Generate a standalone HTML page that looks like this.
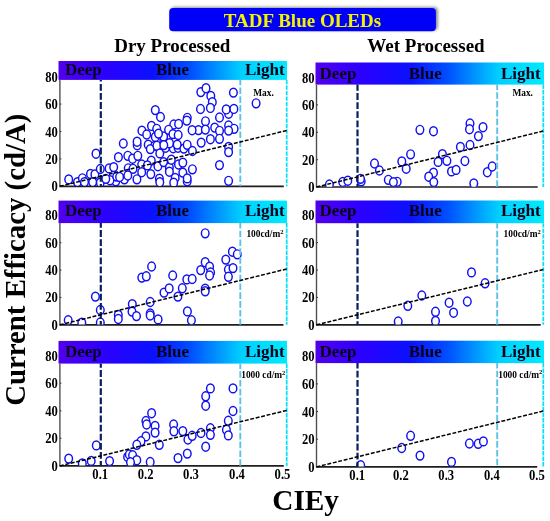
<!DOCTYPE html>
<html><head><meta charset="utf-8"><style>html,body{margin:0;padding:0;background:#fff;width:550px;height:521px;overflow:hidden}svg{display:block;will-change:transform}</style></head>
<body><svg width="550" height="521" viewBox="0 0 550 521">
<defs>
<linearGradient id="grad" x1="0" y1="0" x2="1" y2="0">
<stop offset="0" stop-color="#5200ec"/>
<stop offset="0.2" stop-color="#2c00ff"/>
<stop offset="0.42" stop-color="#0a12ff"/>
<stop offset="0.58" stop-color="#0050ff"/>
<stop offset="0.8" stop-color="#00cfff"/>
<stop offset="1" stop-color="#00eaff"/>
</linearGradient>
<filter id="sh" x="-10%" y="-60%" width="120%" height="220%">
<feGaussianBlur in="SourceAlpha" stdDeviation="1.6"/>
<feOffset dx="1.5" dy="-1.5" result="b"/>
<feFlood flood-color="#000" flood-opacity="0.45"/>
<feComposite in2="b" operator="in"/>
<feMerge><feMergeNode/><feMergeNode in="SourceGraphic"/></feMerge>
</filter>
</defs>
<style>
text{font-family:"Liberation Serif", serif;font-weight:bold;fill:#000}
.bt{font-size:17px;fill:#0a0018}
.yt{font-size:14.5px;text-anchor:end}
.xt{font-size:14.5px}
.nt{font-size:9.4px}
ellipse{fill:#fff;stroke:#1010f0;stroke-width:1.45}
</style>
<rect width="550" height="521" fill="#fff"/>
<rect x="169.2" y="8" width="266.7" height="23.3" rx="4" ry="4" fill="#0505f8" filter="url(#sh)"/>
<text x="302.5" y="26.6" text-anchor="middle" style="font-size:19px;fill:#f4f400">TADF Blue OLEDs</text>
<text x="172.3" y="51.6" text-anchor="middle" style="font-size:19px">Dry Processed</text>
<text x="426" y="51.8" text-anchor="middle" style="font-size:19px">Wet Processed</text>
<text transform="translate(25.3,259.7) rotate(-90)" text-anchor="middle" style="font-size:28.8px">Current Efficacy (cd/A)</text>
<text x="305.6" y="509.9" text-anchor="middle" style="font-size:29.3px">CIEy</text>
<rect x="58.5" y="61.0" width="228.5" height="18.9" fill="url(#grad)"/>
<text x="65.0" y="74.6" class="bt">Deep</text>
<text x="156.0" y="74.6" class="bt">Blue</text>
<text x="245.0" y="74.6" class="bt">Light</text>
<line x1="59.9" y1="79.9" x2="59.9" y2="186.3" stroke="#505050" stroke-width="1.4"/>
<line x1="59.4" y1="186.3" x2="283.8" y2="186.3" stroke="#1e1e1e" stroke-width="1.7"/>
<text transform="translate(57.8,191.3) scale(0.87,1)" class="yt">0</text>
<text transform="translate(57.8,163.9) scale(0.87,1)" class="yt">20</text>
<line x1="59.9" y1="158.9" x2="61.4" y2="158.9" stroke="#333" stroke-width="1"/>
<text transform="translate(57.8,136.5) scale(0.87,1)" class="yt">40</text>
<line x1="59.9" y1="131.5" x2="61.4" y2="131.5" stroke="#333" stroke-width="1"/>
<text transform="translate(57.8,109.1) scale(0.87,1)" class="yt">60</text>
<line x1="59.9" y1="104.1" x2="61.4" y2="104.1" stroke="#333" stroke-width="1"/>
<text transform="translate(57.8,81.7) scale(0.87,1)" class="yt">80</text>
<clipPath id="cL1"><rect x="60.4" y="79.9" width="300" height="106.1"/></clipPath>
<g clip-path="url(#cL1)">
<ellipse cx="115.8" cy="181.3" rx="3.8" ry="4.45"/>
<ellipse cx="124.4" cy="179.3" rx="3.8" ry="4.45"/>
<ellipse cx="110.0" cy="180.2" rx="3.8" ry="4.45"/>
<ellipse cx="228.6" cy="113.7" rx="3.8" ry="4.45"/>
<ellipse cx="96.0" cy="153.7" rx="3.8" ry="4.45"/>
<ellipse cx="68.7" cy="179.4" rx="3.8" ry="4.45"/>
<ellipse cx="77.4" cy="182.1" rx="3.8" ry="4.45"/>
<ellipse cx="82.4" cy="178.3" rx="3.8" ry="4.45"/>
<ellipse cx="84.5" cy="182.1" rx="3.8" ry="4.45"/>
<ellipse cx="90.5" cy="173.9" rx="3.8" ry="4.45"/>
<ellipse cx="94.9" cy="174.4" rx="3.8" ry="4.45"/>
<ellipse cx="92.7" cy="182.1" rx="3.8" ry="4.45"/>
<ellipse cx="100.3" cy="169.0" rx="3.8" ry="4.45"/>
<ellipse cx="100.3" cy="182.6" rx="3.8" ry="4.45"/>
<ellipse cx="105.8" cy="178.8" rx="3.8" ry="4.45"/>
<ellipse cx="109.1" cy="168.4" rx="3.8" ry="4.45"/>
<ellipse cx="113.7" cy="167.1" rx="3.8" ry="4.45"/>
<ellipse cx="116.7" cy="176.6" rx="3.8" ry="4.45"/>
<ellipse cx="118.4" cy="157.2" rx="3.8" ry="4.45"/>
<ellipse cx="123.3" cy="143.5" rx="3.8" ry="4.45"/>
<ellipse cx="137.2" cy="145.2" rx="3.8" ry="4.45"/>
<ellipse cx="148.2" cy="144.7" rx="3.8" ry="4.45"/>
<ellipse cx="154.7" cy="145.9" rx="3.8" ry="4.45"/>
<ellipse cx="150.3" cy="149.1" rx="3.8" ry="4.45"/>
<ellipse cx="127.8" cy="155.8" rx="3.8" ry="4.45"/>
<ellipse cx="132.6" cy="158.7" rx="3.8" ry="4.45"/>
<ellipse cx="137.8" cy="155.8" rx="3.8" ry="4.45"/>
<ellipse cx="151.3" cy="160.6" rx="3.8" ry="4.45"/>
<ellipse cx="128.2" cy="168.3" rx="3.8" ry="4.45"/>
<ellipse cx="133.0" cy="168.8" rx="3.8" ry="4.45"/>
<ellipse cx="141.7" cy="164.5" rx="3.8" ry="4.45"/>
<ellipse cx="147.4" cy="165.4" rx="3.8" ry="4.45"/>
<ellipse cx="157.9" cy="166.2" rx="3.8" ry="4.45"/>
<ellipse cx="119.6" cy="177.0" rx="3.8" ry="4.45"/>
<ellipse cx="127.8" cy="175.5" rx="3.8" ry="4.45"/>
<ellipse cx="136.9" cy="179.3" rx="3.8" ry="4.45"/>
<ellipse cx="141.7" cy="172.2" rx="3.8" ry="4.45"/>
<ellipse cx="150.8" cy="174.1" rx="3.8" ry="4.45"/>
<ellipse cx="159.4" cy="178.7" rx="3.8" ry="4.45"/>
<ellipse cx="156.9" cy="145.8" rx="3.8" ry="4.45"/>
<ellipse cx="159.8" cy="153.4" rx="3.8" ry="4.45"/>
<ellipse cx="163.8" cy="141.2" rx="3.8" ry="4.45"/>
<ellipse cx="165.6" cy="147.7" rx="3.8" ry="4.45"/>
<ellipse cx="173.2" cy="148.2" rx="3.8" ry="4.45"/>
<ellipse cx="178.0" cy="147.7" rx="3.8" ry="4.45"/>
<ellipse cx="183.8" cy="148.6" rx="3.8" ry="4.45"/>
<ellipse cx="187.2" cy="144.8" rx="3.8" ry="4.45"/>
<ellipse cx="192.4" cy="151.0" rx="3.8" ry="4.45"/>
<ellipse cx="201.2" cy="142.6" rx="3.8" ry="4.45"/>
<ellipse cx="163.6" cy="162.1" rx="3.8" ry="4.45"/>
<ellipse cx="169.4" cy="167.4" rx="3.8" ry="4.45"/>
<ellipse cx="169.4" cy="171.7" rx="3.8" ry="4.45"/>
<ellipse cx="171.3" cy="159.7" rx="3.8" ry="4.45"/>
<ellipse cx="178.5" cy="164.5" rx="3.8" ry="4.45"/>
<ellipse cx="182.8" cy="162.6" rx="3.8" ry="4.45"/>
<ellipse cx="182.8" cy="172.6" rx="3.8" ry="4.45"/>
<ellipse cx="192.4" cy="169.3" rx="3.8" ry="4.45"/>
<ellipse cx="159.8" cy="182.2" rx="3.8" ry="4.45"/>
<ellipse cx="175.2" cy="177.9" rx="3.8" ry="4.45"/>
<ellipse cx="173.7" cy="182.7" rx="3.8" ry="4.45"/>
<ellipse cx="187.2" cy="181.3" rx="3.8" ry="4.45"/>
<ellipse cx="187.2" cy="178.4" rx="3.8" ry="4.45"/>
<ellipse cx="205.5" cy="121.3" rx="3.8" ry="4.45"/>
<ellipse cx="198.5" cy="130.1" rx="3.8" ry="4.45"/>
<ellipse cx="205.4" cy="129.6" rx="3.8" ry="4.45"/>
<ellipse cx="214.7" cy="127.6" rx="3.8" ry="4.45"/>
<ellipse cx="219.5" cy="130.8" rx="3.8" ry="4.45"/>
<ellipse cx="228.6" cy="125.5" rx="3.8" ry="4.45"/>
<ellipse cx="234.1" cy="128.8" rx="3.8" ry="4.45"/>
<ellipse cx="228.6" cy="130.6" rx="3.8" ry="4.45"/>
<ellipse cx="210.4" cy="139.2" rx="3.8" ry="4.45"/>
<ellipse cx="219.5" cy="138.8" rx="3.8" ry="4.45"/>
<ellipse cx="228.6" cy="146.9" rx="3.8" ry="4.45"/>
<ellipse cx="228.6" cy="152.1" rx="3.8" ry="4.45"/>
<ellipse cx="219.5" cy="165.1" rx="3.8" ry="4.45"/>
<ellipse cx="228.6" cy="180.8" rx="3.8" ry="4.45"/>
<ellipse cx="155.3" cy="110.1" rx="3.8" ry="4.45"/>
<ellipse cx="160.5" cy="117.0" rx="3.8" ry="4.45"/>
<ellipse cx="151.5" cy="125.9" rx="3.8" ry="4.45"/>
<ellipse cx="156.7" cy="128.8" rx="3.8" ry="4.45"/>
<ellipse cx="141.9" cy="130.7" rx="3.8" ry="4.45"/>
<ellipse cx="146.7" cy="134.5" rx="3.8" ry="4.45"/>
<ellipse cx="155.3" cy="136.9" rx="3.8" ry="4.45"/>
<ellipse cx="163.6" cy="136.4" rx="3.8" ry="4.45"/>
<ellipse cx="137.1" cy="141.7" rx="3.8" ry="4.45"/>
<ellipse cx="200.5" cy="109.0" rx="3.8" ry="4.45"/>
<ellipse cx="187.3" cy="117.8" rx="3.8" ry="4.45"/>
<ellipse cx="186.8" cy="120.6" rx="3.8" ry="4.45"/>
<ellipse cx="173.8" cy="124.5" rx="3.8" ry="4.45"/>
<ellipse cx="178.6" cy="124.0" rx="3.8" ry="4.45"/>
<ellipse cx="192.1" cy="130.2" rx="3.8" ry="4.45"/>
<ellipse cx="168.6" cy="129.8" rx="3.8" ry="4.45"/>
<ellipse cx="172.9" cy="134.1" rx="3.8" ry="4.45"/>
<ellipse cx="178.2" cy="135.0" rx="3.8" ry="4.45"/>
<ellipse cx="158.5" cy="133.6" rx="3.8" ry="4.45"/>
<ellipse cx="169.5" cy="143.2" rx="3.8" ry="4.45"/>
<ellipse cx="177.2" cy="144.6" rx="3.8" ry="4.45"/>
<ellipse cx="163.8" cy="145.1" rx="3.8" ry="4.45"/>
<ellipse cx="200.8" cy="92.1" rx="3.8" ry="4.45"/>
<ellipse cx="206.0" cy="88.2" rx="3.8" ry="4.45"/>
<ellipse cx="210.8" cy="95.9" rx="3.8" ry="4.45"/>
<ellipse cx="212.3" cy="102.2" rx="3.8" ry="4.45"/>
<ellipse cx="210.4" cy="107.9" rx="3.8" ry="4.45"/>
<ellipse cx="233.4" cy="92.6" rx="3.8" ry="4.45"/>
<ellipse cx="226.2" cy="109.4" rx="3.8" ry="4.45"/>
<ellipse cx="233.9" cy="108.9" rx="3.8" ry="4.45"/>
<ellipse cx="219.5" cy="117.5" rx="3.8" ry="4.45"/>
<ellipse cx="256.1" cy="103.3" rx="3.8" ry="4.45"/>
</g>
<line x1="100.8" y1="79.9" x2="100.8" y2="186.3" stroke="#0a1d5c" stroke-width="2.2" stroke-dasharray="6.8,2.3" stroke-dashoffset="5.1"/>
<line x1="240.3" y1="79.9" x2="240.3" y2="186.3" stroke="#5cc2ea" stroke-width="1.9" stroke-dasharray="6.6,2.2" stroke-dashoffset="1.2"/>
<line x1="286.7" y1="79.9" x2="286.7" y2="186.3" stroke="#00e2fa" stroke-width="1.7" stroke-dasharray="4.4,1.1"/>
<line x1="59.9" y1="186.3" x2="286.7" y2="130.5" stroke="#000" stroke-width="1.5" stroke-dasharray="3.9,1.7"/>
<text x="253.2" y="95.6" class="nt">Max.</text>
<rect x="58.5" y="200.6" width="228.5" height="22.5" fill="url(#grad)"/>
<text x="65.0" y="215.8" class="bt">Deep</text>
<text x="156.0" y="215.8" class="bt">Blue</text>
<text x="245.0" y="215.8" class="bt">Light</text>
<line x1="59.9" y1="223.1" x2="59.9" y2="324.8" stroke="#505050" stroke-width="1.4"/>
<line x1="59.4" y1="324.8" x2="283.5" y2="324.8" stroke="#1e1e1e" stroke-width="1.7"/>
<text transform="translate(57.8,329.8) scale(0.87,1)" class="yt">0</text>
<text transform="translate(57.8,302.4) scale(0.87,1)" class="yt">20</text>
<line x1="59.9" y1="297.4" x2="61.4" y2="297.4" stroke="#333" stroke-width="1"/>
<text transform="translate(57.8,275.1) scale(0.87,1)" class="yt">40</text>
<line x1="59.9" y1="270.1" x2="61.4" y2="270.1" stroke="#333" stroke-width="1"/>
<text transform="translate(57.8,247.7) scale(0.87,1)" class="yt">60</text>
<line x1="59.9" y1="242.7" x2="61.4" y2="242.7" stroke="#333" stroke-width="1"/>
<text transform="translate(57.8,220.3) scale(0.87,1)" class="yt">80</text>
<clipPath id="cL2"><rect x="60.4" y="223.1" width="300" height="101.4"/></clipPath>
<g clip-path="url(#cL2)">
<ellipse cx="95.4" cy="296.6" rx="3.8" ry="4.45"/>
<ellipse cx="100.3" cy="310.0" rx="3.8" ry="4.45"/>
<ellipse cx="68.2" cy="320.3" rx="3.8" ry="4.45"/>
<ellipse cx="81.8" cy="322.7" rx="3.8" ry="4.45"/>
<ellipse cx="100.3" cy="322.5" rx="3.8" ry="4.45"/>
<ellipse cx="118.3" cy="314.9" rx="3.8" ry="4.45"/>
<ellipse cx="118.3" cy="319.0" rx="3.8" ry="4.45"/>
<ellipse cx="151.6" cy="266.5" rx="3.8" ry="4.45"/>
<ellipse cx="141.8" cy="277.6" rx="3.8" ry="4.45"/>
<ellipse cx="146.3" cy="276.3" rx="3.8" ry="4.45"/>
<ellipse cx="172.7" cy="275.5" rx="3.8" ry="4.45"/>
<ellipse cx="164.0" cy="292.6" rx="3.8" ry="4.45"/>
<ellipse cx="169.2" cy="288.4" rx="3.8" ry="4.45"/>
<ellipse cx="150.2" cy="302.0" rx="3.8" ry="4.45"/>
<ellipse cx="132.3" cy="304.1" rx="3.8" ry="4.45"/>
<ellipse cx="132.0" cy="311.6" rx="3.8" ry="4.45"/>
<ellipse cx="136.5" cy="316.1" rx="3.8" ry="4.45"/>
<ellipse cx="150.2" cy="313.5" rx="3.8" ry="4.45"/>
<ellipse cx="150.2" cy="315.5" rx="3.8" ry="4.45"/>
<ellipse cx="158.1" cy="319.4" rx="3.8" ry="4.45"/>
<ellipse cx="205.2" cy="233.3" rx="3.8" ry="4.45"/>
<ellipse cx="232.4" cy="251.7" rx="3.8" ry="4.45"/>
<ellipse cx="237.3" cy="254.3" rx="3.8" ry="4.45"/>
<ellipse cx="225.8" cy="259.6" rx="3.8" ry="4.45"/>
<ellipse cx="205.2" cy="262.2" rx="3.8" ry="4.45"/>
<ellipse cx="209.6" cy="266.6" rx="3.8" ry="4.45"/>
<ellipse cx="200.7" cy="270.1" rx="3.8" ry="4.45"/>
<ellipse cx="210.6" cy="272.5" rx="3.8" ry="4.45"/>
<ellipse cx="209.6" cy="275.5" rx="3.8" ry="4.45"/>
<ellipse cx="228.4" cy="269.5" rx="3.8" ry="4.45"/>
<ellipse cx="233.0" cy="268.1" rx="3.8" ry="4.45"/>
<ellipse cx="228.4" cy="276.8" rx="3.8" ry="4.45"/>
<ellipse cx="186.8" cy="279.4" rx="3.8" ry="4.45"/>
<ellipse cx="192.2" cy="279.0" rx="3.8" ry="4.45"/>
<ellipse cx="182.3" cy="288.3" rx="3.8" ry="4.45"/>
<ellipse cx="177.9" cy="296.6" rx="3.8" ry="4.45"/>
<ellipse cx="205.2" cy="288.7" rx="3.8" ry="4.45"/>
<ellipse cx="205.2" cy="291.3" rx="3.8" ry="4.45"/>
<ellipse cx="187.4" cy="311.4" rx="3.8" ry="4.45"/>
<ellipse cx="191.4" cy="320.3" rx="3.8" ry="4.45"/>
</g>
<line x1="100.8" y1="223.1" x2="100.8" y2="324.8" stroke="#0a1d5c" stroke-width="2.2" stroke-dasharray="6.8,2.3" stroke-dashoffset="2.1"/>
<line x1="240.3" y1="223.1" x2="240.3" y2="324.8" stroke="#5cc2ea" stroke-width="1.9" stroke-dasharray="6.6,2.2" stroke-dashoffset="1.2"/>
<line x1="286.7" y1="223.1" x2="286.7" y2="324.8" stroke="#00e2fa" stroke-width="1.7" stroke-dasharray="4.4,1.1"/>
<line x1="59.9" y1="324.8" x2="286.7" y2="269.0" stroke="#000" stroke-width="1.5" stroke-dasharray="3.9,1.7"/>
<text x="246.4" y="237.4" class="nt">100cd/m<tspan dy="-3.2" font-size="6.5">2</tspan></text>
<rect x="58.5" y="340.9" width="228.5" height="22.7" fill="url(#grad)"/>
<text x="65.0" y="356.9" class="bt">Deep</text>
<text x="156.0" y="356.9" class="bt">Blue</text>
<text x="245.0" y="356.9" class="bt">Light</text>
<line x1="59.9" y1="363.6" x2="59.9" y2="465.9" stroke="#505050" stroke-width="1.4"/>
<line x1="59.4" y1="465.9" x2="283.8" y2="465.9" stroke="#1e1e1e" stroke-width="1.7"/>
<text transform="translate(57.8,470.9) scale(0.87,1)" class="yt">0</text>
<text transform="translate(57.8,443.3) scale(0.87,1)" class="yt">20</text>
<line x1="59.9" y1="438.3" x2="61.4" y2="438.3" stroke="#333" stroke-width="1"/>
<text transform="translate(57.8,415.8) scale(0.87,1)" class="yt">40</text>
<line x1="59.9" y1="410.8" x2="61.4" y2="410.8" stroke="#333" stroke-width="1"/>
<text transform="translate(57.8,388.2) scale(0.87,1)" class="yt">60</text>
<line x1="59.9" y1="383.2" x2="61.4" y2="383.2" stroke="#333" stroke-width="1"/>
<text transform="translate(57.8,360.6) scale(0.87,1)" class="yt">80</text>
<clipPath id="cL3"><rect x="60.4" y="363.6" width="300" height="102.0"/></clipPath>
<g clip-path="url(#cL3)">
<ellipse cx="96.3" cy="445.4" rx="3.8" ry="4.45"/>
<ellipse cx="68.7" cy="458.6" rx="3.8" ry="4.45"/>
<ellipse cx="82.3" cy="463.4" rx="3.8" ry="4.45"/>
<ellipse cx="91.2" cy="460.9" rx="3.8" ry="4.45"/>
<ellipse cx="109.6" cy="461.1" rx="3.8" ry="4.45"/>
<ellipse cx="127.6" cy="456.9" rx="3.8" ry="4.45"/>
<ellipse cx="129.3" cy="454.5" rx="3.8" ry="4.45"/>
<ellipse cx="151.6" cy="413.2" rx="3.8" ry="4.45"/>
<ellipse cx="145.9" cy="421.0" rx="3.8" ry="4.45"/>
<ellipse cx="146.6" cy="424.5" rx="3.8" ry="4.45"/>
<ellipse cx="155.1" cy="425.9" rx="3.8" ry="4.45"/>
<ellipse cx="155.1" cy="432.6" rx="3.8" ry="4.45"/>
<ellipse cx="145.9" cy="436.4" rx="3.8" ry="4.45"/>
<ellipse cx="141.0" cy="441.3" rx="3.8" ry="4.45"/>
<ellipse cx="136.8" cy="444.8" rx="3.8" ry="4.45"/>
<ellipse cx="159.3" cy="444.8" rx="3.8" ry="4.45"/>
<ellipse cx="173.6" cy="424.5" rx="3.8" ry="4.45"/>
<ellipse cx="173.9" cy="431.3" rx="3.8" ry="4.45"/>
<ellipse cx="132.6" cy="455.3" rx="3.8" ry="4.45"/>
<ellipse cx="136.8" cy="460.2" rx="3.8" ry="4.45"/>
<ellipse cx="130.5" cy="462.3" rx="3.8" ry="4.45"/>
<ellipse cx="150.2" cy="462.0" rx="3.8" ry="4.45"/>
<ellipse cx="178.0" cy="458.1" rx="3.8" ry="4.45"/>
<ellipse cx="210.4" cy="388.4" rx="3.8" ry="4.45"/>
<ellipse cx="205.7" cy="396.3" rx="3.8" ry="4.45"/>
<ellipse cx="205.7" cy="405.7" rx="3.8" ry="4.45"/>
<ellipse cx="233.0" cy="388.4" rx="3.8" ry="4.45"/>
<ellipse cx="233.0" cy="411.0" rx="3.8" ry="4.45"/>
<ellipse cx="228.3" cy="420.8" rx="3.8" ry="4.45"/>
<ellipse cx="226.4" cy="429.8" rx="3.8" ry="4.45"/>
<ellipse cx="228.3" cy="435.4" rx="3.8" ry="4.45"/>
<ellipse cx="182.8" cy="431.1" rx="3.8" ry="4.45"/>
<ellipse cx="187.9" cy="439.5" rx="3.8" ry="4.45"/>
<ellipse cx="192.2" cy="435.8" rx="3.8" ry="4.45"/>
<ellipse cx="201.0" cy="433.0" rx="3.8" ry="4.45"/>
<ellipse cx="210.4" cy="428.3" rx="3.8" ry="4.45"/>
<ellipse cx="210.4" cy="434.8" rx="3.8" ry="4.45"/>
<ellipse cx="205.7" cy="446.7" rx="3.8" ry="4.45"/>
<ellipse cx="187.3" cy="453.6" rx="3.8" ry="4.45"/>
</g>
<line x1="100.8" y1="363.6" x2="100.8" y2="465.9" stroke="#0a1d5c" stroke-width="2.2" stroke-dasharray="6.8,2.3" stroke-dashoffset="2.6"/>
<line x1="240.3" y1="363.6" x2="240.3" y2="465.9" stroke="#5cc2ea" stroke-width="1.9" stroke-dasharray="6.6,2.2" stroke-dashoffset="1.2"/>
<line x1="286.7" y1="363.6" x2="286.7" y2="465.9" stroke="#00e2fa" stroke-width="1.7" stroke-dasharray="4.4,1.1"/>
<line x1="59.9" y1="465.9" x2="286.7" y2="410.4" stroke="#000" stroke-width="1.5" stroke-dasharray="3.9,1.7"/>
<text x="241.2" y="378.0" class="nt">1000 cd/m<tspan dy="-3.2" font-size="6.5">2</tspan></text>
<rect x="315.5" y="62.5" width="228.5" height="22.1" fill="url(#grad)"/>
<text x="319.6" y="78.9" class="bt">Deep</text>
<text x="408.7" y="78.9" class="bt">Blue</text>
<text x="501.0" y="78.9" class="bt">Light</text>
<line x1="316.5" y1="84.6" x2="316.5" y2="187.0" stroke="#505050" stroke-width="1.4"/>
<line x1="316.0" y1="187.0" x2="537.7" y2="187.0" stroke="#1e1e1e" stroke-width="1.7"/>
<text transform="translate(314.6,192.0) scale(0.87,1)" class="yt">0</text>
<text transform="translate(314.6,164.7) scale(0.87,1)" class="yt">20</text>
<line x1="316.5" y1="159.7" x2="318.0" y2="159.7" stroke="#333" stroke-width="1"/>
<text transform="translate(314.6,137.3) scale(0.87,1)" class="yt">40</text>
<line x1="316.5" y1="132.3" x2="318.0" y2="132.3" stroke="#333" stroke-width="1"/>
<text transform="translate(314.6,109.9) scale(0.87,1)" class="yt">60</text>
<line x1="316.5" y1="104.9" x2="318.0" y2="104.9" stroke="#333" stroke-width="1"/>
<text transform="translate(314.6,82.6) scale(0.87,1)" class="yt">80</text>
<clipPath id="cR1"><rect x="317.0" y="84.6" width="300" height="102.1"/></clipPath>
<g clip-path="url(#cR1)">
<ellipse cx="329.4" cy="184.5" rx="3.8" ry="4.45"/>
<ellipse cx="342.7" cy="182.0" rx="3.8" ry="4.45"/>
<ellipse cx="347.8" cy="180.7" rx="3.8" ry="4.45"/>
<ellipse cx="361.2" cy="181.3" rx="3.8" ry="4.45"/>
<ellipse cx="360.5" cy="178.8" rx="3.8" ry="4.45"/>
<ellipse cx="374.5" cy="163.5" rx="3.8" ry="4.45"/>
<ellipse cx="379.4" cy="170.5" rx="3.8" ry="4.45"/>
<ellipse cx="419.9" cy="129.8" rx="3.8" ry="4.45"/>
<ellipse cx="433.5" cy="131.2" rx="3.8" ry="4.45"/>
<ellipse cx="410.6" cy="154.3" rx="3.8" ry="4.45"/>
<ellipse cx="401.8" cy="161.4" rx="3.8" ry="4.45"/>
<ellipse cx="406.2" cy="168.7" rx="3.8" ry="4.45"/>
<ellipse cx="388.3" cy="179.8" rx="3.8" ry="4.45"/>
<ellipse cx="397.2" cy="181.8" rx="3.8" ry="4.45"/>
<ellipse cx="393.4" cy="182.1" rx="3.8" ry="4.45"/>
<ellipse cx="442.4" cy="154.1" rx="3.8" ry="4.45"/>
<ellipse cx="438.1" cy="161.9" rx="3.8" ry="4.45"/>
<ellipse cx="446.9" cy="160.8" rx="3.8" ry="4.45"/>
<ellipse cx="433.5" cy="172.7" rx="3.8" ry="4.45"/>
<ellipse cx="428.7" cy="176.7" rx="3.8" ry="4.45"/>
<ellipse cx="433.8" cy="182.1" rx="3.8" ry="4.45"/>
<ellipse cx="470.0" cy="123.5" rx="3.8" ry="4.45"/>
<ellipse cx="469.5" cy="129.2" rx="3.8" ry="4.45"/>
<ellipse cx="483.0" cy="127.2" rx="3.8" ry="4.45"/>
<ellipse cx="478.4" cy="136.1" rx="3.8" ry="4.45"/>
<ellipse cx="460.4" cy="146.9" rx="3.8" ry="4.45"/>
<ellipse cx="470.0" cy="145.0" rx="3.8" ry="4.45"/>
<ellipse cx="464.9" cy="161.0" rx="3.8" ry="4.45"/>
<ellipse cx="451.5" cy="171.4" rx="3.8" ry="4.45"/>
<ellipse cx="456.1" cy="169.9" rx="3.8" ry="4.45"/>
<ellipse cx="487.3" cy="172.2" rx="3.8" ry="4.45"/>
<ellipse cx="492.2" cy="166.5" rx="3.8" ry="4.45"/>
<ellipse cx="473.8" cy="183.4" rx="3.8" ry="4.45"/>
</g>
<line x1="357.5" y1="84.6" x2="357.5" y2="187.0" stroke="#0a1d5c" stroke-width="2.2" stroke-dasharray="6.8,2.3" stroke-dashoffset="0.6"/>
<line x1="497.2" y1="84.6" x2="497.2" y2="187.0" stroke="#5cc2ea" stroke-width="1.9" stroke-dasharray="6.6,2.2" stroke-dashoffset="1.2"/>
<line x1="543.3" y1="84.6" x2="543.3" y2="187.0" stroke="#00e2fa" stroke-width="1.7" stroke-dasharray="4.4,1.1"/>
<line x1="316.5" y1="187.0" x2="543.3" y2="131.0" stroke="#000" stroke-width="1.5" stroke-dasharray="3.9,1.7"/>
<text x="512.4" y="95.5" class="nt">Max.</text>
<rect x="315.5" y="200.5" width="228.5" height="22.7" fill="url(#grad)"/>
<text x="319.6" y="215.8" class="bt">Deep</text>
<text x="408.7" y="215.8" class="bt">Blue</text>
<text x="501.0" y="215.8" class="bt">Light</text>
<line x1="316.5" y1="223.2" x2="316.5" y2="324.8" stroke="#505050" stroke-width="1.4"/>
<line x1="316.0" y1="324.8" x2="540.7" y2="324.8" stroke="#1e1e1e" stroke-width="1.7"/>
<text transform="translate(314.6,329.8) scale(0.87,1)" class="yt">0</text>
<text transform="translate(314.6,302.4) scale(0.87,1)" class="yt">20</text>
<line x1="316.5" y1="297.4" x2="318.0" y2="297.4" stroke="#333" stroke-width="1"/>
<text transform="translate(314.6,275.0) scale(0.87,1)" class="yt">40</text>
<line x1="316.5" y1="270.0" x2="318.0" y2="270.0" stroke="#333" stroke-width="1"/>
<text transform="translate(314.6,247.6) scale(0.87,1)" class="yt">60</text>
<line x1="316.5" y1="242.6" x2="318.0" y2="242.6" stroke="#333" stroke-width="1"/>
<text transform="translate(314.6,220.2) scale(0.87,1)" class="yt">80</text>
<clipPath id="cR2"><rect x="317.0" y="223.2" width="300" height="101.3"/></clipPath>
<g clip-path="url(#cR2)">
<ellipse cx="471.5" cy="272.4" rx="3.8" ry="4.45"/>
<ellipse cx="485.1" cy="283.3" rx="3.8" ry="4.45"/>
<ellipse cx="421.8" cy="295.5" rx="3.8" ry="4.45"/>
<ellipse cx="407.8" cy="305.8" rx="3.8" ry="4.45"/>
<ellipse cx="449.1" cy="302.7" rx="3.8" ry="4.45"/>
<ellipse cx="467.3" cy="301.5" rx="3.8" ry="4.45"/>
<ellipse cx="435.5" cy="311.8" rx="3.8" ry="4.45"/>
<ellipse cx="453.6" cy="312.7" rx="3.8" ry="4.45"/>
<ellipse cx="435.5" cy="320.9" rx="3.8" ry="4.45"/>
<ellipse cx="398.2" cy="321.5" rx="3.8" ry="4.45"/>
</g>
<line x1="357.5" y1="223.2" x2="357.5" y2="324.8" stroke="#0a1d5c" stroke-width="2.2" stroke-dasharray="6.8,2.3" stroke-dashoffset="2.1"/>
<line x1="497.2" y1="223.2" x2="497.2" y2="324.8" stroke="#5cc2ea" stroke-width="1.9" stroke-dasharray="6.6,2.2" stroke-dashoffset="1.2"/>
<line x1="543.3" y1="223.2" x2="543.3" y2="324.8" stroke="#00e2fa" stroke-width="1.7" stroke-dasharray="4.4,1.1"/>
<line x1="316.5" y1="324.8" x2="543.3" y2="269.5" stroke="#000" stroke-width="1.5" stroke-dasharray="3.9,1.7"/>
<text x="503.6" y="237.4" class="nt">100cd/m<tspan dy="-3.2" font-size="6.5">2</tspan></text>
<rect x="315.5" y="340.7" width="228.5" height="22.4" fill="url(#grad)"/>
<text x="319.6" y="356.9" class="bt">Deep</text>
<text x="408.7" y="356.9" class="bt">Blue</text>
<text x="501.0" y="356.9" class="bt">Light</text>
<line x1="316.5" y1="363.1" x2="316.5" y2="466.9" stroke="#505050" stroke-width="1.4"/>
<line x1="316.0" y1="466.9" x2="537.2" y2="466.9" stroke="#1e1e1e" stroke-width="1.7"/>
<text transform="translate(314.6,471.9) scale(0.87,1)" class="yt">0</text>
<text transform="translate(314.6,444.2) scale(0.87,1)" class="yt">20</text>
<line x1="316.5" y1="439.2" x2="318.0" y2="439.2" stroke="#333" stroke-width="1"/>
<text transform="translate(314.6,416.6) scale(0.87,1)" class="yt">40</text>
<line x1="316.5" y1="411.6" x2="318.0" y2="411.6" stroke="#333" stroke-width="1"/>
<text transform="translate(314.6,388.9) scale(0.87,1)" class="yt">60</text>
<line x1="316.5" y1="383.9" x2="318.0" y2="383.9" stroke="#333" stroke-width="1"/>
<text transform="translate(314.6,361.3) scale(0.87,1)" class="yt">80</text>
<clipPath id="cR3"><rect x="317.0" y="363.1" width="300" height="103.5"/></clipPath>
<g clip-path="url(#cR3)">
<ellipse cx="410.6" cy="435.8" rx="3.8" ry="4.45"/>
<ellipse cx="401.7" cy="448.0" rx="3.8" ry="4.45"/>
<ellipse cx="420.0" cy="455.6" rx="3.8" ry="4.45"/>
<ellipse cx="451.5" cy="461.9" rx="3.8" ry="4.45"/>
<ellipse cx="469.4" cy="443.5" rx="3.8" ry="4.45"/>
<ellipse cx="478.2" cy="443.8" rx="3.8" ry="4.45"/>
<ellipse cx="483.4" cy="441.4" rx="3.8" ry="4.45"/>
<ellipse cx="360.7" cy="465.3" rx="3.8" ry="4.45"/>
</g>
<line x1="357.5" y1="363.1" x2="357.5" y2="466.9" stroke="#0a1d5c" stroke-width="2.2" stroke-dasharray="6.8,2.3" stroke-dashoffset="1.4"/>
<line x1="497.2" y1="363.1" x2="497.2" y2="466.9" stroke="#5cc2ea" stroke-width="1.9" stroke-dasharray="6.6,2.2" stroke-dashoffset="1.2"/>
<line x1="543.3" y1="363.1" x2="543.3" y2="466.9" stroke="#00e2fa" stroke-width="1.7" stroke-dasharray="4.4,1.1"/>
<line x1="316.5" y1="466.9" x2="543.3" y2="411.0" stroke="#000" stroke-width="1.5" stroke-dasharray="3.9,1.7"/>
<text x="498.2" y="377.6" class="nt">1000 cd/m<tspan dy="-3.2" font-size="6.5">2</tspan></text>
<text transform="translate(100.2,478.5) scale(0.87,1)" class="xt" text-anchor="middle">0.1</text>
<text transform="translate(145.6,478.5) scale(0.87,1)" class="xt" text-anchor="middle">0.2</text>
<text transform="translate(191.0,478.5) scale(0.87,1)" class="xt" text-anchor="middle">0.3</text>
<text transform="translate(237.0,478.5) scale(0.87,1)" class="xt" text-anchor="middle">0.4</text>
<text transform="translate(282.5,478.5) scale(0.87,1)" class="xt" text-anchor="middle">0.5</text>
<text transform="translate(357.2,479.5) scale(0.87,1)" class="xt" text-anchor="middle">0.1</text>
<text transform="translate(400.9,479.5) scale(0.87,1)" class="xt" text-anchor="middle">0.2</text>
<text transform="translate(446.2,479.5) scale(0.87,1)" class="xt" text-anchor="middle">0.3</text>
<text transform="translate(491.9,479.5) scale(0.87,1)" class="xt" text-anchor="middle">0.4</text>
<text transform="translate(536.9,479.5) scale(0.87,1)" class="xt" text-anchor="middle">0.5</text>
</svg></body></html>
